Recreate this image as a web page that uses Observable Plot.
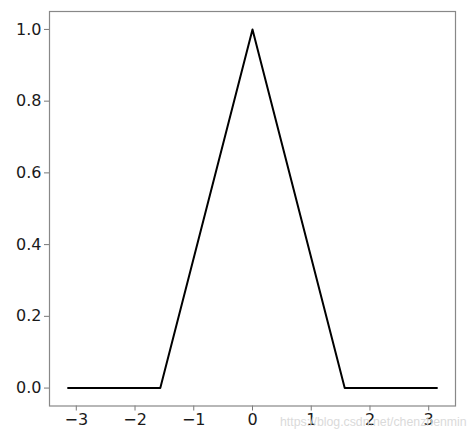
<!DOCTYPE html>
<html>
<head>
<meta charset="utf-8">
<script src="https://cdn.jsdelivr.net/npm/d3@7"></script>
<script src="https://cdn.jsdelivr.net/npm/@observablehq/plot@0.6"></script>
<style>
  html, body { margin: 0; padding: 0; background: #fff; }
  #wrap { position: relative; width: 474px; height: 437px; overflow: hidden; }
  #wm { position: absolute; left: 280px; top: 416px; font-family: "Liberation Sans", Arial, sans-serif; font-size: 12.3px; line-height: 1; color: #dadada; white-space: nowrap; }
</style>
</head>
<body>
<div id="wrap"><div id="chart"></div><div id="wm">https://blog.csdn.net/chenzhenmin</div></div>
<script>
const xValues = [-3.14, -1.57, 0, 1.57, 3.14];
const yValues = [0, 0, 1, 0, 0];
const xTicks = [-3, -2, -1, 0, 1, 2, 3];
const yTicks = [0, 0.2, 0.4, 0.6, 0.8, 1.0];

const data = xValues.map((x, i) => ({x, y: yValues[i]}));

const chart = Plot.plot({
  width: 474,
  height: 437,
  marginLeft: 49,
  marginRight: 19,
  marginTop: 11,
  marginBottom: 31.5,
  style: {fontFamily: "DejaVu Sans, sans-serif", fontSize: "16px", color: "#1a1a1a", background: "#fff"},
  x: {domain: [-3.456, 3.456], ticks: xTicks, tickFormat: d3.format("d"), label: null},
  y: {domain: [-0.05, 1.05], ticks: yTicks, tickFormat: d3.format(".1f"), label: null},
  marks: [
    Plot.axisX({ticks: xTicks, tickFormat: d3.format("d"), tickSize: 5, tickPadding: 3, stroke: "#777", strokeOpacity: 1, label: null}),
    Plot.axisY({ticks: yTicks, tickFormat: d3.format(".1f"), tickSize: 5, tickPadding: 3, stroke: "#777", strokeOpacity: 1, label: null}),
    Plot.line(data, {x: "x", y: "y", stroke: "#000", strokeWidth: 2}),
    Plot.frame({stroke: "#888", strokeWidth: 1.2})
  ]
});
document.getElementById("chart").appendChild(chart);
</script>
</body>
</html>
